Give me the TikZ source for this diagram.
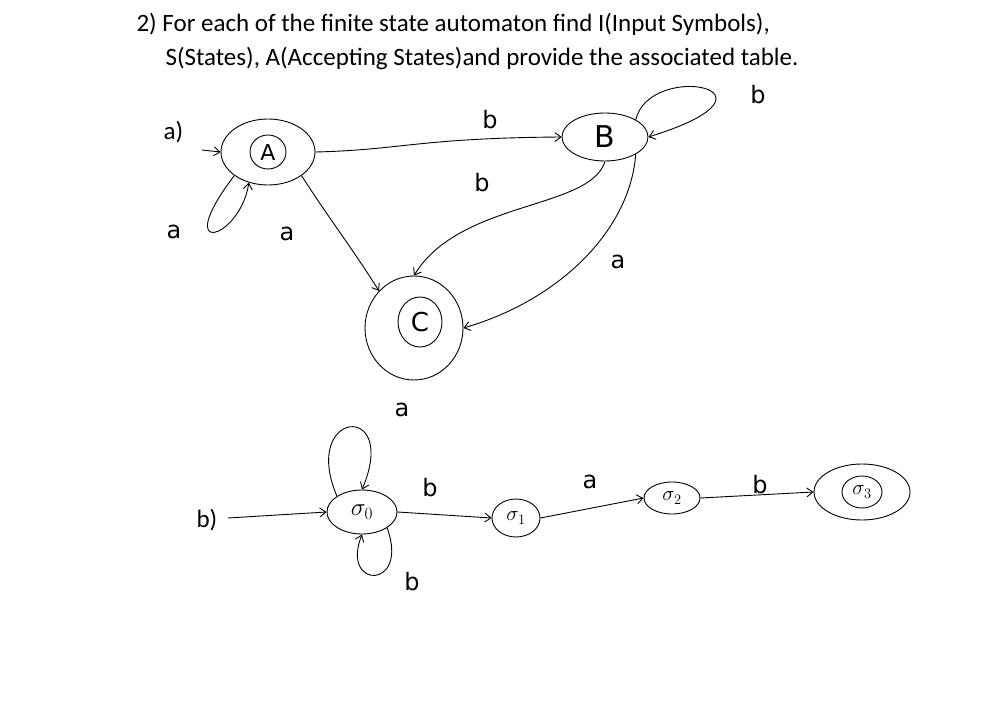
\documentclass[tikz,border=0pt]{standalone}
\usepackage{fontspec}
\setmainfont{Carlito}
\newfontfamily\hand{DejaVu Sans}
\usetikzlibrary{arrows.meta,shapes.geometric}
\begin{document}
\begin{tikzpicture}[x=1pt,y=-1pt,
  st/.style={draw,ellipse,line width=0.9pt,inner sep=0pt},
  lab/.style={font=\hand\fontsize{24}{24}\selectfont},
  edge/.style={line width=0.9pt,-{Straight Barb[length=6pt,width=9pt]}},
  ttl/.style={font=\fontsize{25}{28}\selectfont,anchor=base west}]
\useasboundingbox (0,0) rectangle (995,722);
\node[ttl] (t1) at (133,32) {2) For each of the finite state automaton find I(Input Symbols),};
\node[ttl] (t2) at (162,66) {S(States), A(Accepting States)and provide the associated table.};
% part a
\node[ttl] (pa) at (160,140) {a)};
\node[st,minimum width=94pt,minimum height=66pt] (Ao) at (268,152) {};
\node[st,minimum width=36pt,minimum height=34pt,font=\hand\fontsize{22}{22}\selectfont] (A) at (268,152) {A};
\node[st,minimum width=86pt,minimum height=48pt,font=\hand\fontsize{30}{30}\selectfont] (B) at (605,137) {B};
\node[st,minimum width=98pt,minimum height=104pt] (Co) at (414,328) {};
\node[st,minimum width=44pt,minimum height=50pt,font=\hand\fontsize{26}{26}\selectfont] (C) at (420,322) {C};
\coordinate (sa) at (202,150);
\draw[edge] (sa) -- (Ao.west);
\draw[edge] (Ao.east) .. controls (400,150) and (420,138) .. (B.west);
\node[lab] (lab1) at (490,120) {b};
\draw[edge] (Ao.215) .. controls (170,260) and (240,240) .. (Ao.238);
\node[lab] (lab2) at (174,232) {a};
\draw[edge] (Ao.south east) .. controls (330,220) and (350,245) .. (Co.north west);
\node[lab] (lab3) at (287,234) {a};
\draw[edge] (B.south) .. controls (590,210) and (460,200) .. (Co.north);
\node[lab] (lab4) at (482,183) {b};
\draw[edge] (B.south east) .. controls (630,230) and (560,300) .. (Co.east);
\node[lab] (lab5) at (618,262) {a};
\draw[edge] (B.north east) .. controls (650,60) and (800,90) .. (B.east);
\node[lab] (lab6) at (758,95) {b};
% part b
\node[ttl] (pb) at (193,527) {b)};
\node[st,minimum width=70pt,minimum height=44pt,font=\hand\fontsize{24}{24}\selectfont] (s0) at (362,512) {$\sigma_0$};
\node[st,minimum width=48pt,minimum height=38pt,font=\hand\fontsize{22}{22}\selectfont] (s1) at (516,518) {$\sigma_1$};
\node[st,minimum width=56pt,minimum height=32pt,font=\hand\fontsize{20}{20}\selectfont] (s2) at (672,498) {$\sigma_2$};
\node[st,minimum width=96pt,minimum height=56pt] (s3o) at (862,492) {};
\node[st,minimum width=40pt,minimum height=32pt,font=\hand\fontsize{20}{20}\selectfont] (s3) at (862,492) {$\sigma_3$};
\coordinate (sb) at (228,518);
\draw[edge] (sb) -- (s0.west);
\draw[edge] (s0.north west) .. controls (300,410) and (400,400) .. (s0.north);
\node[lab] (lab7) at (402,410) {a};
\draw[edge] (s0.south east) .. controls (410,590) and (340,590) .. (s0.south);
\node[lab] (lab8) at (412,582) {b};
\draw[edge] (s0.east) -- (s1.west);
\node[lab] (lab9) at (430,488) {b};
\draw[edge] (s1.east) -- (s2.west);
\node[lab] (lab10) at (590,482) {a};
\draw[edge] (s2.east) -- (s3o.west);
\node[lab] (lab11) at (760,485) {b};
\end{tikzpicture}
\end{document}
